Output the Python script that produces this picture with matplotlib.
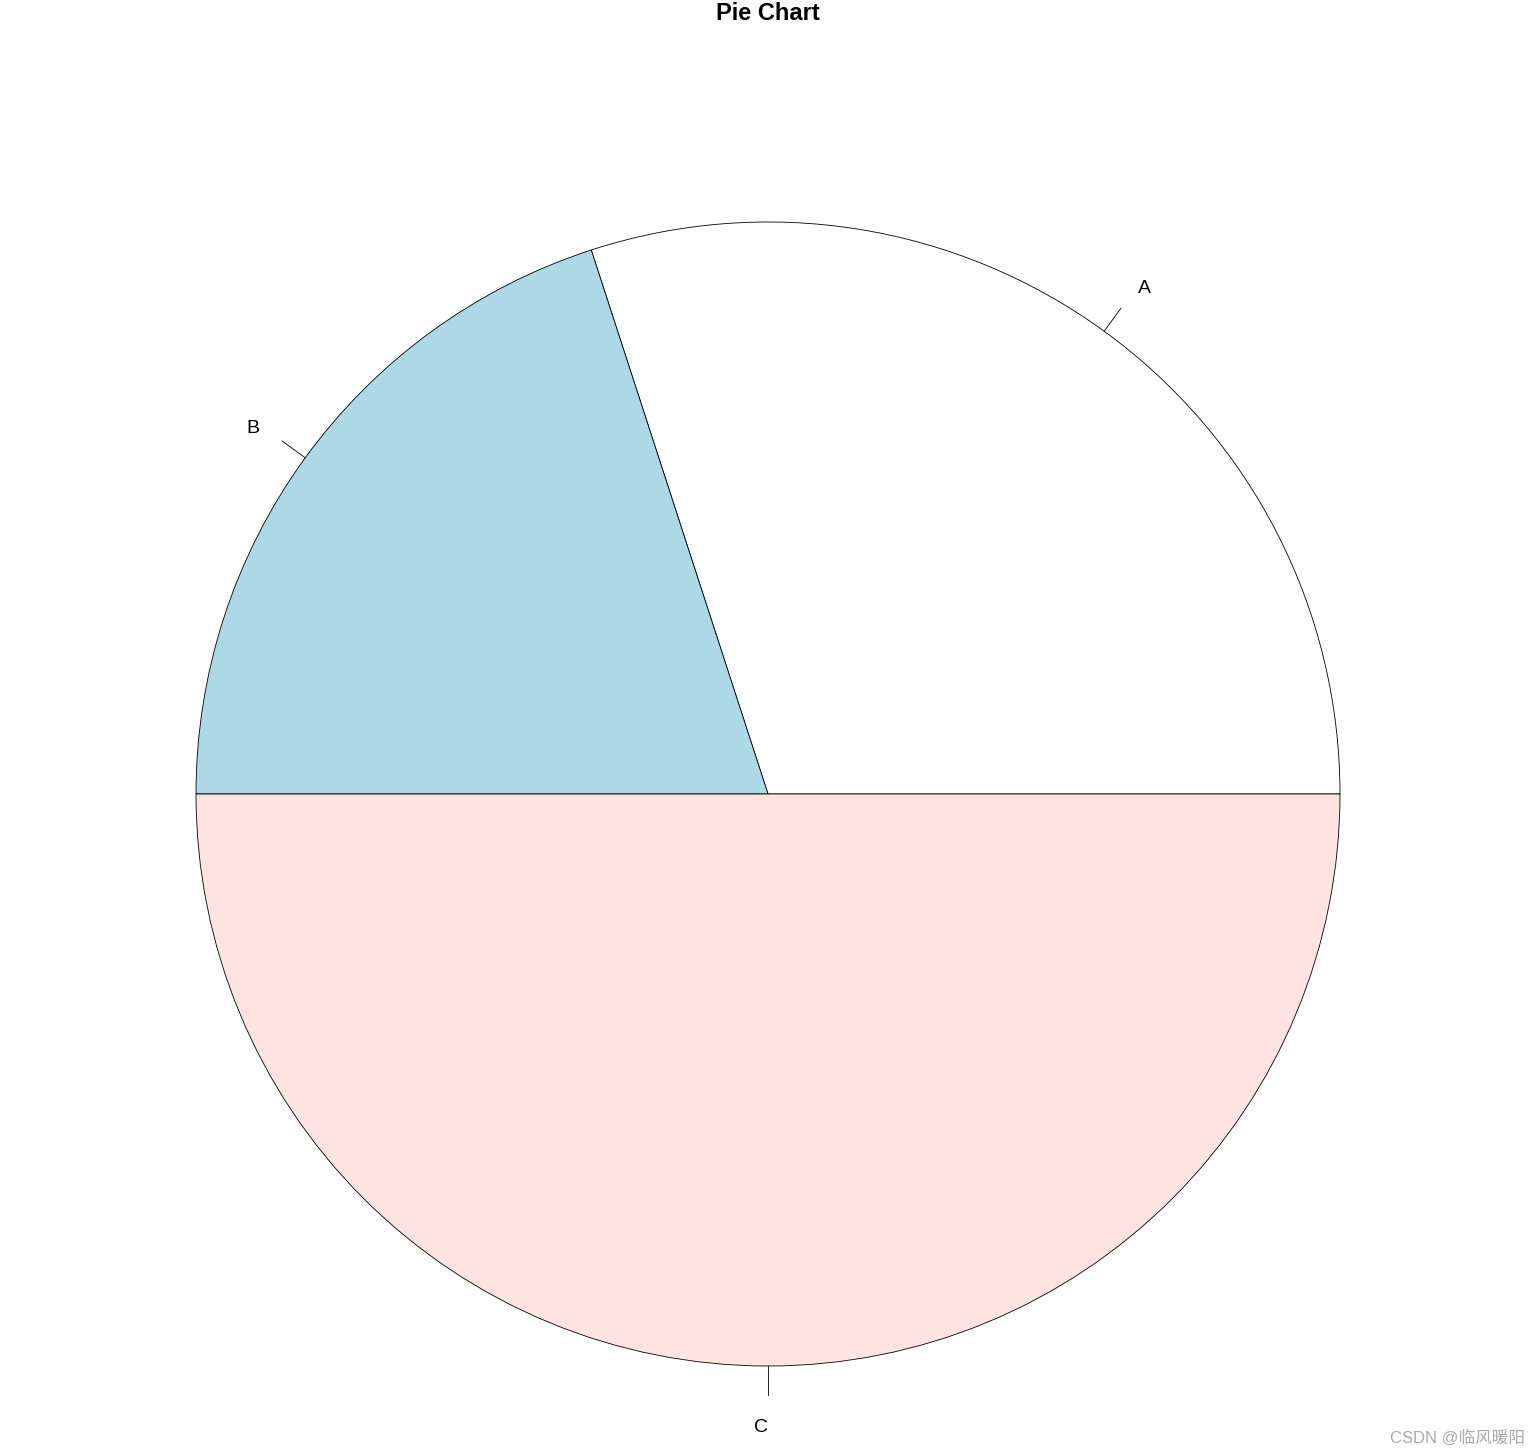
import matplotlib
matplotlib.use("Agg")
import numpy as np
import matplotlib.pyplot as plt

# slice data (R base pie defaults)
labels = ["A", "B", "C"]
values = [30, 20, 50]
colors = ["#FFFFFF", "#ADD8E6", "#FFE4E1"]

plt.rcParams['font.family'] = ['Liberation Sans', 'DejaVu Sans']

W, H = 1540, 1456
cx, cy = 768, 794
radius = 572

fig = plt.figure(figsize=(W / 100, H / 100), dpi=100)
ax = fig.add_axes([0, 0, 1, 1])

wedges, texts = ax.pie(values, labels=labels, colors=colors, radius=radius,
                       startangle=0, counterclock=True, labeldistance=1.1,
                       wedgeprops=dict(edgecolor='black', linewidth=0.6),
                       textprops=dict(fontsize=14))

# small tick lines from the rim to the labels, like R's pie()
for w, t in zip(wedges, texts):
    mid = np.deg2rad((w.theta1 + w.theta2) / 2)
    ax.plot([radius * np.cos(mid), 1.05 * radius * np.cos(mid)],
            [radius * np.sin(mid), 1.05 * radius * np.sin(mid)],
            color='black', linewidth=0.6)
    # R: adj = 1 unless x > 0 (so the bottom label is right-aligned)
    x, y = t.get_position()
    t.set_horizontalalignment('left' if x > 1.0 else 'right')
    t.set_position((x, y - 4))

# pie() resets the limits, so set them afterwards (1 data unit = 1 pixel)
ax.set_xlim(-cx, W - cx)
ax.set_ylim(-(H - cy), cy)
ax.set_aspect('equal')
ax.axis('off')

fig.text(768 / W, 1 - 13 / H, "Pie Chart", ha='center', va='center',
         fontsize=17, fontweight='bold')

fig.text(1525 / W, 1 - 1438 / H, "CSDN @临风暖阳", ha='right', va='center',
         fontsize=12, color='#aaaaaa',
         family=['Liberation Sans', 'Noto Sans CJK SC'])

fig.savefig("out.png", dpi=100)
